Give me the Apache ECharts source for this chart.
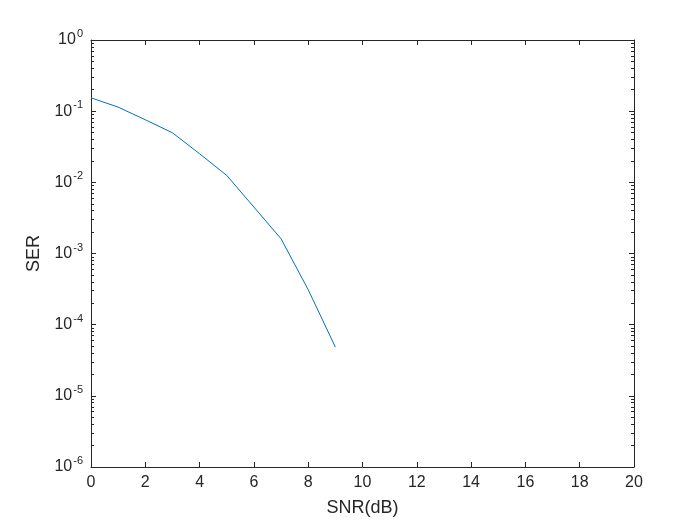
<!DOCTYPE html>
<html><head><meta charset="utf-8">
<script src="https://cdn.jsdelivr.net/npm/echarts@6/dist/echarts.min.js"></script>
<style>html,body{margin:0;padding:0;background:#fff}#c{width:700px;height:525px}</style>
</head><body><div id="c"></div>
<script>
const snr = [0, 1, 2, 3, 4, 5, 6, 7, 8, 9];
const ser = [0.154, 0.114, 0.0757, 0.0497, 0.0252, 0.0125, 0.00449, 0.00161, 0.00031, 0.0000485];
const xTicks = [0, 2, 4, 6, 8, 10, 12, 14, 16, 18, 20];
const yExponents = [-6, -5, -4, -3, -2, -1, 0];

const txt = '#262626';
const font = 'Liberation Sans, Arial, sans-serif';
const chart = echarts.init(document.getElementById('c'), null, {renderer: 'canvas'});
const lineStyle = {color: txt, width: 1};
const yLabel = v => {
  const e = Math.round(Math.log10(v));
  return '{b|10}{s|' + e + '}';
};
chart.setOption({
  animation: false,
  backgroundColor: '#fff',
  grid: {left: 91, right: 66, top: 40, bottom: 58, show: false},
  xAxis: [{
    type: 'value', min: 0, max: 20, interval: 2,
    name: 'SNR(dB)', nameLocation: 'middle', nameGap: 32,
    nameTextStyle: {color: txt, fontSize: 18, fontFamily: font},
    axisLine: {show: true, lineStyle}, axisTick: {show: true, inside: true, length: 5, lineStyle},
    axisLabel: {color: txt, fontSize: 16, fontFamily: font, margin: 8},
    splitLine: {show: false}
  }, {
    type: 'value', min: 0, max: 20, interval: 2, position: 'top',
    axisLine: {show: true, onZero: false, lineStyle}, axisTick: {show: true, inside: true, length: 5, lineStyle},
    axisLabel: {show: false}, splitLine: {show: false}
  }],
  yAxis: [{
    type: 'log', logBase: 10, min: 1e-6, max: 1,
    name: 'SER', nameLocation: 'middle', nameGap: 47, nameRotate: 90,
    nameTextStyle: {color: txt, fontSize: 18, fontFamily: font},
    axisLine: {show: true, onZero: false, lineStyle}, axisTick: {show: true, inside: true, length: 5, lineStyle},
    minorTick: {show: true, splitNumber: 9, length: 3, lineStyle},
    axisLabel: {color: txt, fontFamily: font, margin: 8, formatter: yLabel,
      rich: {b: {fontSize: 16, color: txt, fontFamily: font}, s: {fontSize: 11, color: txt, fontFamily: font, padding: [0, 0, 12, 1]}}},
    splitLine: {show: false}
  }, {
    type: 'log', logBase: 10, min: 1e-6, max: 1, position: 'right',
    axisLine: {show: true, onZero: false, lineStyle}, axisTick: {show: true, inside: true, length: 5, lineStyle},
    minorTick: {show: true, splitNumber: 9, length: 3, lineStyle},
    axisLabel: {show: false}, splitLine: {show: false}
  }],
  series: [{
    type: 'line', xAxisIndex: 0, yAxisIndex: 0,
    data: snr.map((x, i) => [x, ser[i]]),
    showSymbol: false, symbol: 'none',
    lineStyle: {color: '#0072BD', width: 1}
  }]
});
</script></body></html>
